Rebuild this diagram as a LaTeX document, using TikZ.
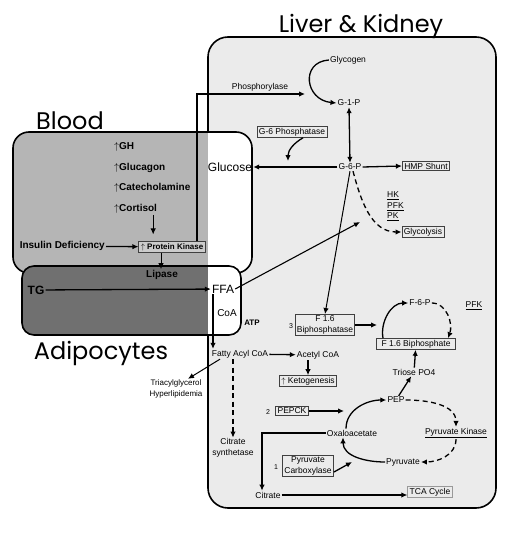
\documentclass[tikz,border=0pt]{standalone}
\usepackage{fontspec}
\setmainfont{Liberation Sans}
\newfontfamily\titlefont{Poppins}
\usetikzlibrary{arrows.meta}
\definecolor{liverbg}{gray}{0.92}
\definecolor{bloodbg}{gray}{0.71}
\definecolor{adipobg}{gray}{0.44}
\definecolor{boxbg}{gray}{0.8}
\newcommand{\upar}{$\uparrow$}
\tikzset{
    every node/.style={inner sep=1pt, font=\fontsize{8.5}{10.5}\selectfont},
    big/.style={font=\fontsize{12}{14}\selectfont},
    hormone/.style={anchor=west, font=\bfseries\fontsize{10}{12}\selectfont},
    regionname/.style={anchor=base, font=\titlefont\fontsize{24}{28}\selectfont},
    enz/.style={draw=black!75, line width=.7pt, inner xsep=2pt, inner ysep=1.5pt,
    	align=center},
    num/.style={font=\fontsize{7}{8}\selectfont},
    arr/.style={-{Latex[length=6pt,width=5.5pt]}, line width=1.3pt},
    arrs/.style={{Latex[length=6pt,width=5.5pt]}-{Latex[length=6pt,width=5.5pt]},
    	line width=1.3pt},
    dsh/.style={dash pattern=on 5pt off 3.5pt},
    region/.style={line width=1.6pt, rounded corners=#1}
}

\begin{document}
\begin{tikzpicture}[x=1pt, y=-1pt]
  \useasboundingbox (0,0) rectangle (520,538);
  \draw[region=20, fill=liverbg] (208,37) rectangle (496,508);
  \fill[white, rounded corners=16] (13,132) rectangle (252,273);
  \begin{scope}
    \clip[rounded corners=16] (13,132) rectangle (252,273);
    \fill[bloodbg] (13,132) rectangle (207.5,273);
  \end{scope}
  \draw[region=16] (13,132) rectangle (252,273);
  \fill[white, rounded corners=12] (22,266) rectangle (241,335);
  \begin{scope}
    \clip[rounded corners=12] (22,266) rectangle (241,335);
    \fill[adipobg] (22,266) rectangle (207.5,335);
  \end{scope}
  \draw[region=12] (22,266) rectangle (241,335);

  \node (liver) [regionname] at (361, 32) {Liver \& Kidney};
  \node (blood) [regionname] at (70, 129) {Blood};
  \node (adipo) [regionname] at (101, 359) {Adipocytes};

  \node (gh) [hormone] at (113, 147) {\upar GH};
  \node (glucagon) [hormone] at (113, 168) {\upar Glucagon};
  \node (catechol) [hormone] at (113, 188) {\upar Catecholamine};
  \node (cortisol) [hormone] at (113, 209) {\upar Cortisol};
  \node (insulin) [hormone, anchor=east] at (106, 246) {Insulin Deficiency};
  \node (pk) [enz, fill=boxbg, font=\bfseries\fontsize{8}{9}\selectfont] at (172, 247) {\upar\ Protein Kinase};
  \node (lipase) [font=\bfseries\fontsize{10}{12}\selectfont] at (162, 275) {Lipase};
  \node (tg) [font=\bfseries\fontsize{12}{14}\selectfont] at (36, 290) {TG};
  \node (ffa) [big] at (223, 289) {FFA};
  \node (coa) [font=\fontsize{10}{12}\selectfont] at (227, 313) {CoA};
  \node (atp) [font=\bfseries\fontsize{8}{10}\selectfont] at (252, 323) {ATP};

  \node (glycogen) at (348, 60) {Glycogen};
  \node (g1p) at (349, 103) {G-1-P};
  \node (phosph) at (260, 87) {Phosphorylase};
  \coordinate (phos) at (305, 94);
  \coordinate (up) at (197, 94);
  \node (g6pase) [enz] at (292, 132) {G-6 Phosphatase};
  \coordinate (glcin) at (288, 161);
  \node (g6p) at (350, 167) {G-6-P};
  \node (glucose) [big] at (230, 167) {Glucose};
  \node (hmp) [enz] at (426, 166) {HMP Shunt};
  \node (hk) [anchor=west] at (386, 196) {\underline{HK}};
  \node (pfk1) [anchor=west] at (386, 207) {\underline{PFK}};
  \node (pk1) [anchor=west] at (386, 217) {\underline{PK}};
  \node (glycolysis) [enz] at (423, 232) {Glycolysis};
  \coordinate (gl) at (360, 222);

  \node (fbpase) [enz, inner xsep=1.5pt] at (325, 325) {F 1.6\\Biphosphatase};
  \node (n3) [num] at (291, 326) {3};
  \coordinate (fbin) at (377, 325);
  \node (f6p) at (420, 303) {F-6-P};
  \node (pfk) at (474, 306) {\underline{PFK}};
  \node (fbp) [enz, inner xsep=5pt] at (416, 344) {F 1.6 Biphosphate};
  \node (triose) at (414, 372) {Triose PO4};
  \node (pep) at (396, 400) {PEP};
  \node (fac) at (240, 354) {Fatty Acyl CoA};
  \node (tri) [align=center, font=\fontsize{8}{10.5}\selectfont] at (176, 389) {Triacylglycerol\\Hyperlipidemia};
  \node (acetyl) at (318, 355) {Acetyl CoA};
  \node (keto) [enz] at (308, 381) {\upar\ Ketogenesis};
  \node (pepck) [enz] at (292, 411) {PEPCK};
  \node (n2) [num] at (268, 412) {2};
  \coordinate (pepin) at (344, 411);
  \node (oxalo) at (352, 433) {Oxaloacetate};
  \node (pyrk) at (456, 433) {\underline{Pyruvate Kinase}};
  \node (pyruvate) at (403, 462) {Pyruvate};
  \node (pcarb) [enz] at (308, 466) {Pyruvate\\Carboxylase};
  \node (n1) [num] at (276, 467) {1};
  \coordinate (pcin) at (352, 462);
  \node (csynth) [align=center] at (233, 448) {Citrate\\synthetase};
  \node (citrate) at (268, 495) {Citrate};
  \node (tca) [enz, draw=black!40] at (430, 492) {TCA Cycle};

  \draw[arr, line width=1pt, shorten >=7pt] ([xshift=-5]cortisol.south east) -- ([xshift=-5]cortisol.south east |- pk.north);
  \draw[arr] (insulin) -- (pk);
  \draw[arr, line width=1pt] ([xshift=-11]pk.south) -- ([xshift=-11]pk.south |- lipase.north);
  \draw[arr] (pk.north -| up) |- (phos);
  \draw[arr] (tg) -- (ffa);
  \draw[arr] ([xshift=-10]ffa.south) -- ([xshift=-10]ffa.south |- fac.north);
  \draw[arr, line width=1.1pt] (ffa.east) -- (gl);
  \draw[arr, line width=1pt] ([xshift=-20]fac.south) -- ([xshift=12]tri.north);

  \draw[arr] (glycogen.west) .. controls (300, 62) and (305, 100) .. (g1p.west);
  \draw[arrs] (g1p.south) -- (g6p.north);
  \draw[arr] ([xshift=11]g6pase.south) to[out=-150, in=90] (glcin);
  \draw[arr] (g6p.west) -- (glucose.east);
  \draw[arr] (g6p.east) -- (hmp.west);
  \draw[arr, dsh] ([xshift=3]g6p.south) to[out=-75, in=180] (glycolysis.west);
  \draw[arr, line width=1pt] (g6p.south) -- (fbpase.north);

  \draw[arr] (fbpase.east) -- (fbin);
  \draw[arr] ([xshift=-33]fbp.north) to[out=100, in=180] (f6p.west);
  \draw[arr, dsh] (f6p.east) to[out=0, in=70] ([xshift=32]fbp.north);
  \draw[arr] (triose) -- (fbp);
  \draw[arr] (pep) -- (triose);
  \draw[arr] (fac) -- (acetyl);
  \draw[arr] (keto.north |- acetyl.south) -- (keto.north);
  \draw[arr, dsh] (csynth.north |- fac.south) -- (csynth.north);
  \draw[arr] (pepck) -- (pepin);
  \draw[arr] ([xshift=-6]oxalo.north) to[out=90, in=180] (pep.west);
  \draw[arr, dsh] (pep.east) to[out=0, in=90] (pyrk.north);
  \draw[arr, dsh] (pyrk.south) to[out=-90, in=0] (pyruvate.east);
  \draw[arr] (pyruvate.west) to[out=180, in=-90] ([xshift=-9]oxalo.south);
  \draw[arr] ([yshift=-6]pcarb.east) -- (pcin);
  \draw[arr] (oxalo.west) -| ([xshift=-6]citrate.north);
  \draw[arr] (citrate.east) -- (citrate.east -| tca.west);
\end{tikzpicture}
\end{document}
